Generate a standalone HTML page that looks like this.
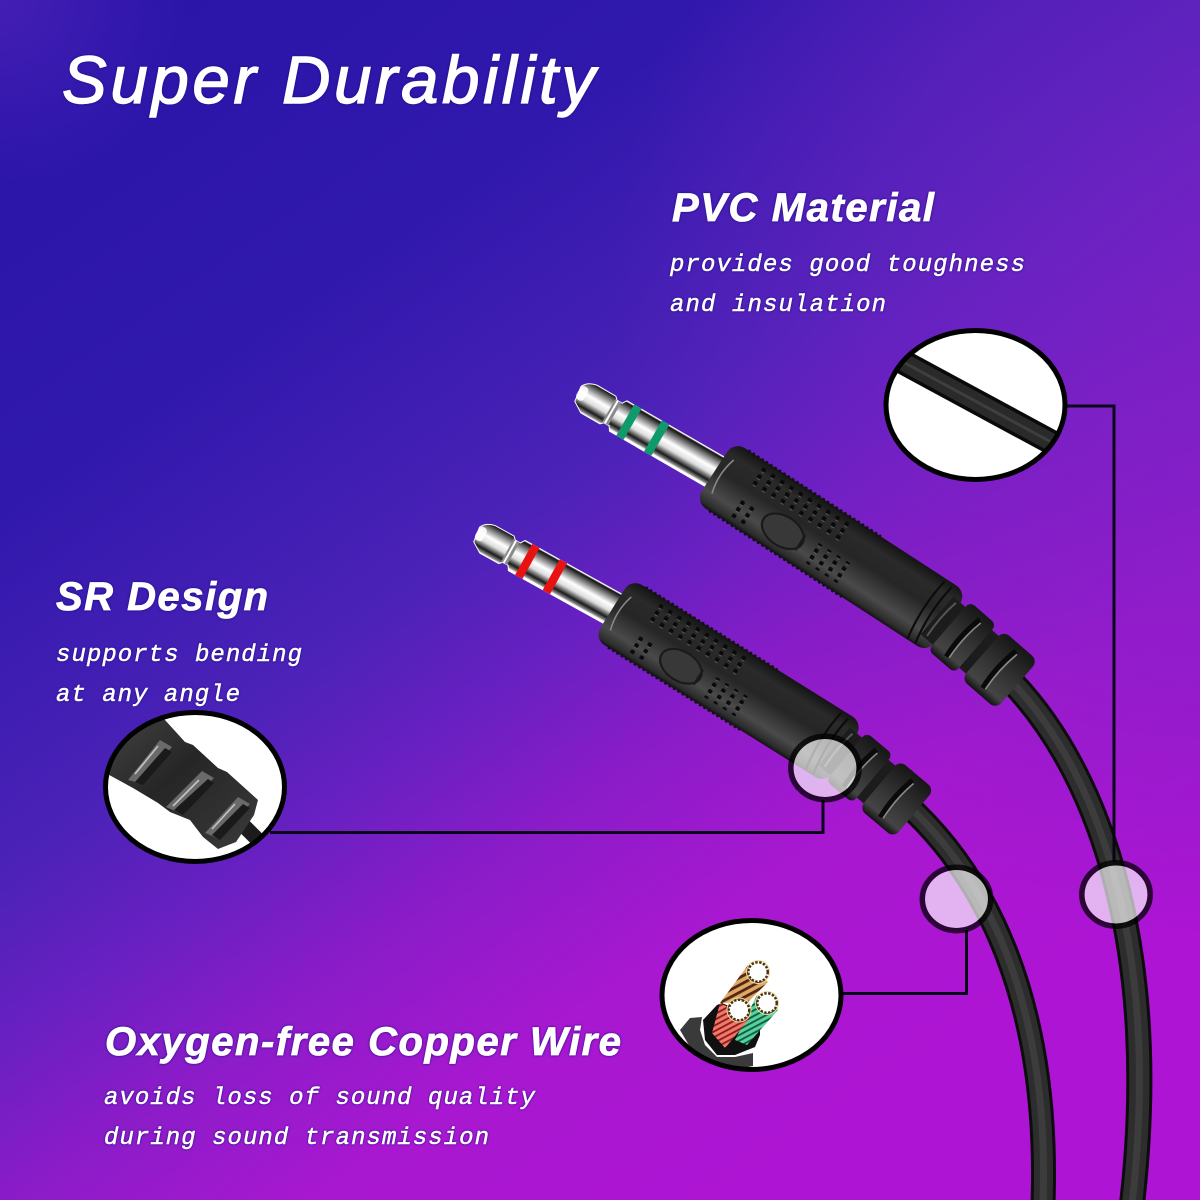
<!DOCTYPE html>
<html><head><meta charset="utf-8"><title>Super Durability</title>
<style>
html,body{margin:0;padding:0;background:#5a1ebc}
svg{display:block}
.t{font-family:"Liberation Sans",sans-serif;font-style:italic;fill:#fff;stroke:#fff;stroke-width:1.4;font-size:67px;filter:drop-shadow(0 0 1px #14087c)}
.h{font-family:"Liberation Sans",sans-serif;font-weight:bold;font-style:italic;fill:#fff;stroke:#fff;stroke-width:.8;font-size:40px;filter:drop-shadow(0 0 1.2px #14087c)}
.d{font-family:"Liberation Mono",monospace;font-style:italic;fill:#fff;stroke:#fff;stroke-width:.5;font-size:24px;filter:drop-shadow(0 0 1px #14087c)}
</style></head><body>
<svg xmlns="http://www.w3.org/2000/svg" width="1200" height="1200" viewBox="0 0 1200 1200">
<defs>
<linearGradient id="bg" gradientUnits="userSpaceOnUse" x1="0" y1="0" x2="846" y2="1208">
<stop offset=".056" stop-color="#2a15a8"/><stop offset=".278" stop-color="#3018ac"/><stop offset=".489" stop-color="#4c22b8"/><stop offset=".583" stop-color="#6a20c2"/><stop offset=".667" stop-color="#8a1cc8"/><stop offset=".789" stop-color="#a818d0"/><stop offset=".972" stop-color="#ae14d4"/>
</linearGradient>
<radialGradient id="corner" gradientUnits="userSpaceOnUse" cx="0" cy="0" r="190">
<stop offset="0" stop-color="#4a20b8" stop-opacity=".8"/><stop offset="1" stop-color="#4a20b8" stop-opacity="0"/>
</radialGradient>
<radialGradient id="rgt" gradientUnits="userSpaceOnUse" cx="1260" cy="300" r="650">
<stop offset="0" stop-color="#7422c4" stop-opacity=".75"/><stop offset=".6" stop-color="#7422c4" stop-opacity=".4"/><stop offset="1" stop-color="#7422c4" stop-opacity="0"/>
</radialGradient>
<linearGradient id="metal" x1="0" y1="0" x2="0" y2="1">
<stop offset="0" stop-color="#fff"/><stop offset=".05" stop-color="#111"/><stop offset=".2" stop-color="#777"/><stop offset=".42" stop-color="#fff"/><stop offset=".6" stop-color="#ddd"/><stop offset=".8" stop-color="#1a1a1a"/><stop offset=".9" stop-color="#888"/><stop offset=".95" stop-color="#fff"/><stop offset="1" stop-color="#fff"/>
</linearGradient>
<linearGradient id="body" x1="0" y1="0" x2="0" y2="1">
<stop offset="0" stop-color="#141414"/><stop offset=".18" stop-color="#2a2a2a"/><stop offset=".45" stop-color="#262626"/><stop offset=".78" stop-color="#4a4a4a"/><stop offset=".94" stop-color="#2c2c2c"/><stop offset="1" stop-color="#111"/>
</linearGradient>
<linearGradient id="ring" x1="0" y1="0" x2="0" y2="1">
<stop offset="0" stop-color="#161616"/><stop offset=".5" stop-color="#333"/><stop offset=".85" stop-color="#444"/><stop offset="1" stop-color="#111"/>
</linearGradient>
<linearGradient id="srb" x1="0" y1="0" x2="1" y2="1">
<stop offset="0" stop-color="#4a4a4a"/><stop offset=".5" stop-color="#262626"/><stop offset="1" stop-color="#3a3a3a"/>
</linearGradient>
<pattern id="dots" width="11" height="7.8" patternUnits="userSpaceOnUse">
<rect x="2.4" y="1.2" width="4.4" height="4.2" rx="1" fill="#0a0a0a"/>
<rect x="3.4" y="5.4" width="3.4" height="1" fill="#5c5c5c"/>
</pattern>
<pattern id="stO" width="7" height="6.500" patternUnits="userSpaceOnUse" patternTransform="rotate(-28)">
<rect width="7" height="7" fill="#e0a868"/><rect width="7" height="2.800" fill="#50280e"/>
</pattern>
<pattern id="stR" width="6" height="5" patternUnits="userSpaceOnUse" patternTransform="rotate(-28)">
<rect width="6" height="6" fill="#f07a68"/><rect width="6" height="1.900" fill="#8c1c20"/>
</pattern>
<pattern id="stG" width="6" height="5" patternUnits="userSpaceOnUse" patternTransform="rotate(-28)">
<rect width="6" height="6" fill="#5ad0a0"/><rect width="6" height="1.900" fill="#0c6040"/>
</pattern>
<clipPath id="cp1"><ellipse cx="975.5" cy="405" rx="89" ry="74"/></clipPath>
<clipPath id="cp2"><ellipse cx="195" cy="787" rx="89" ry="74"/></clipPath>
<clipPath id="cp3"><ellipse cx="751.5" cy="995" rx="89" ry="74"/></clipPath>
<g id="plug">
  <!-- metal -->
  <g transform="rotate(-3)">
    <path d="M-161 -7 Q-158 -14 -148 -16 L-126 -16 L-123 -13 L-117 -13 L-114 -17.5 L0 -17.5 L0 17.5 L-114 17.5 L-117 13 L-123 13 L-126 16 L-148 16 L-159 9 Z" fill="url(#metal)" stroke="#fff" stroke-width="1"/>
    <rect x="-125" y="-13" width="7" height="26" fill="#8a8a8a"/>
    <rect x="-123" y="-13" width="2" height="26" fill="#fff"/>
    <rect x="-106" y="-18" width="8.5" height="36" fill="currentColor"/>
    <rect x="-74" y="-18" width="8.5" height="36" fill="currentColor"/>
    <rect x="-161" y="-9" width="9" height="15" rx="4" fill="#fff" opacity=".85"/>
  </g>
  <!-- body -->
  <rect x="-3" y="-36" width="278" height="72" rx="13" fill="url(#body)"/>
  <path d="M14 -36H172M14 36H172" stroke="#111" stroke-width="2.6" stroke-dasharray="2.6 2.6" fill="none"/>
  <path d="M7 -20 Q1 0 7 20" stroke="#888" stroke-width="1.6" fill="none"/>
  <rect x="32" y="-31" width="112" height="24" fill="url(#dots)"/>
  <rect x="33" y="7" width="22" height="22" fill="url(#dots)"/>
  <rect x="117" y="3" width="44" height="24" fill="url(#dots)"/>
  <ellipse cx="87" cy="13" rx="23" ry="15" fill="#383838" stroke="#1a1a1a" stroke-width="2.2"/>
  <path d="M108 4v18" stroke="#1a1a1a" stroke-width="2.2"/>
  <path d="M250 -33Q244 0 250 35M259 -32Q253 0 259 35" stroke="#0c0c0c" stroke-width="2.2" fill="none"/>
  <!-- strain relief -->
  <g transform="rotate(8 265 0)">
    <rect x="262" y="-25" width="70" height="50" fill="#1c1c1c"/>
    <rect x="278" y="-32" width="35" height="64" rx="6" fill="url(#ring)"/>
    <rect x="322" y="-32" width="46" height="64" rx="8" fill="url(#ring)"/>
    <path d="M297 -25Q292 0 296 25M345 -25Q340 0 344 25" stroke="#0a0a0a" stroke-width="5" fill="none"/>
    <path d="M300 -23Q296 0 299 24M348 -23Q344 0 347 24" stroke="#888" stroke-width="1.6" fill="none"/>
    <path d="M268 -22Q265 0 268 22" stroke="#555" stroke-width="2" fill="none"/>
  </g>
</g>
</defs>

<rect width="1200" height="1200" fill="url(#bg)"/>
<rect width="300" height="300" fill="url(#corner)"/>
<rect x="600" y="0" width="600" height="950" fill="url(#rgt)"/>

<!-- cables -->
<g fill="none">
  <path d="M1012 682 C1105 780 1160 960 1132 1204" stroke="#0c0c0c" stroke-width="26"/>
  <path d="M1012 682 C1105 780 1160 960 1132 1204" stroke="#2d2d2d" stroke-width="20"/>
  <path d="M1012 682 C1105 780 1160 960 1132 1204" stroke="#3c3c3c" stroke-width="7"/>
  <path d="M905 803 C985 875 1050 1000 1043 1204" stroke="#0c0c0c" stroke-width="25"/>
  <path d="M905 803 C985 875 1050 1000 1043 1204" stroke="#2d2d2d" stroke-width="19"/>
  <path d="M905 803 C985 875 1050 1000 1043 1204" stroke="#3c3c3c" stroke-width="7"/>
</g>

<!-- plugs -->
<use href="#plug" transform="translate(717,473) rotate(33)" style="color:#0f9a6c"/>
<use href="#plug" transform="translate(615,610) rotate(32) scale(.985)" style="color:#e81212"/>

<!-- connector lines -->
<g fill="none" stroke="#0a0418" stroke-width="3">
  <path d="M1066 406H1114V862"/>
  <path d="M270 832.5H823V800"/>
  <path d="M842 993.5H966.5V930"/>
</g>

<!-- lenses on the cable -->
<g fill="#fff" fill-opacity=".67">
  <ellipse cx="825" cy="768" rx="31.5" ry="29"/>
  <ellipse cx="956.5" cy="899" rx="31.5" ry="29"/>
  <ellipse cx="1116" cy="894.5" rx="31.5" ry="29"/>
</g>
<g fill="none" stroke="#000" stroke-opacity=".75" stroke-width="5.5">
  <ellipse cx="825" cy="768" rx="34.2" ry="31.7"/>
  <ellipse cx="956.5" cy="899" rx="34.2" ry="31.7"/>
  <ellipse cx="1116" cy="894.5" rx="34.2" ry="31.7"/>
</g>

<!-- PVC callout -->
<ellipse cx="975.5" cy="405" rx="89" ry="74" fill="#fff"/>
<g clip-path="url(#cp1)">
  <path d="M880 349.500L1075 455" stroke="#0a0a0a" stroke-width="25" fill="none"/>
  <path d="M880 349.500L1075 455" stroke="#2a2a2a" stroke-width="18" fill="none"/>
  <path d="M880 349.500L1075 455" stroke="#3e3e3e" stroke-width="3" fill="none"/>
</g>
<ellipse cx="975.5" cy="405" rx="89.5" ry="74.500" fill="none" stroke="#000" stroke-width="5"/>

<!-- SR callout -->
<ellipse cx="195" cy="787" rx="89" ry="74" fill="#fff"/>
<g clip-path="url(#cp2)">
  <path d="M240 822L268 850" stroke="#1c1c1c" stroke-width="15" fill="none"/>
  <path d="M150 700L165 720L185 742L193 745L218 768L227 772L258 800L254 815L236 842L218 849L203 837L190 820L170 812L158 803L133 788L100 770L90 760Z" fill="url(#srb)"/>
  <path d="M160 740L172 747L140 783L128 780ZM202 771L214 778L180 813L166 807ZM238 797L250 804L217 838L205 833Z" fill="#6a6a6a"/>
  <path d="M165 748L172 752L143 785L135 782ZM208 779L214 783L183 815L174 810ZM243 804L250 808L220 840L212 835Z" fill="#1a1a1a"/>
  <path d="M158 746L135 774M199 780L173 806M235 804L212 829" fill="none" stroke="#c4c4c4" stroke-width="1.600"/>
</g>
<ellipse cx="195" cy="787" rx="89.5" ry="74.500" fill="none" stroke="#000" stroke-width="5"/>

<!-- Copper callout -->
<ellipse cx="751.5" cy="995" rx="89" ry="74" fill="#fff"/>
<g clip-path="url(#cp3)">
  <path d="M680 1030L690 1018L702 1017L700 1030L705 1045L717 1057L735 1057L753 1053L753 1066L720 1072L690 1047Z" fill="#3a3a3a"/>
  <path d="M703 1020L717 1005L722 1003L760 1020L760 1035L755 1047L735 1055L717 1055L705 1040Z" fill="#101010"/>
  <path d="M748 965L768 982L748 1002L720 1003Z" fill="url(#stO)"/>
  <path d="M757 995L778 1010L747 1045L735 1040Z" fill="url(#stG)"/>
  <path d="M720 1003L750 1018L725 1048L712 1033Z" fill="url(#stR)"/>
  <circle cx="758" cy="972" r="10" fill="#fff" stroke="#4a3410" stroke-width="3" stroke-dasharray="2.500 1.500"/>
  <circle cx="758" cy="972" r="11.500" fill="none" stroke="#f0dca0" stroke-width="1"/>
  <circle cx="767" cy="1003" r="10" fill="#fff" stroke="#4a3410" stroke-width="3" stroke-dasharray="2.500 1.500"/>
  <circle cx="767" cy="1003" r="11.500" fill="none" stroke="#f0dca0" stroke-width="1"/>
  <circle cx="739" cy="1010" r="10.500" fill="#fff" stroke="#4a3410" stroke-width="3" stroke-dasharray="2.500 1.500"/>
  <circle cx="739" cy="1010" r="12" fill="none" stroke="#f0dca0" stroke-width="1"/>
</g>
<ellipse cx="751.5" cy="995" rx="89.5" ry="74.500" fill="none" stroke="#000" stroke-width="5"/>

<!-- text -->
<text class="t" x="62" y="103" textLength="533" lengthAdjust="spacing">Super Durability</text>

<text class="h" x="672" y="221" textLength="262" lengthAdjust="spacing">PVC Material</text>
<text class="d" x="670" y="271" textLength="355" lengthAdjust="spacing">provides good toughness</text>
<text class="d" x="670" y="311" textLength="216" lengthAdjust="spacing">and insulation</text>

<text class="h" x="56" y="610" textLength="212" lengthAdjust="spacing">SR Design</text>
<text class="d" x="56" y="661" textLength="246" lengthAdjust="spacing">supports bending</text>
<text class="d" x="56" y="701" textLength="184" lengthAdjust="spacing">at any angle</text>

<text class="h" x="105" y="1055" textLength="516" lengthAdjust="spacing">Oxygen-free Copper Wire</text>
<text class="d" x="104" y="1104" textLength="431" lengthAdjust="spacing">avoids loss of sound quality</text>
<text class="d" x="104" y="1144" textLength="385" lengthAdjust="spacing">during sound transmission</text>
</svg>
</body></html>
